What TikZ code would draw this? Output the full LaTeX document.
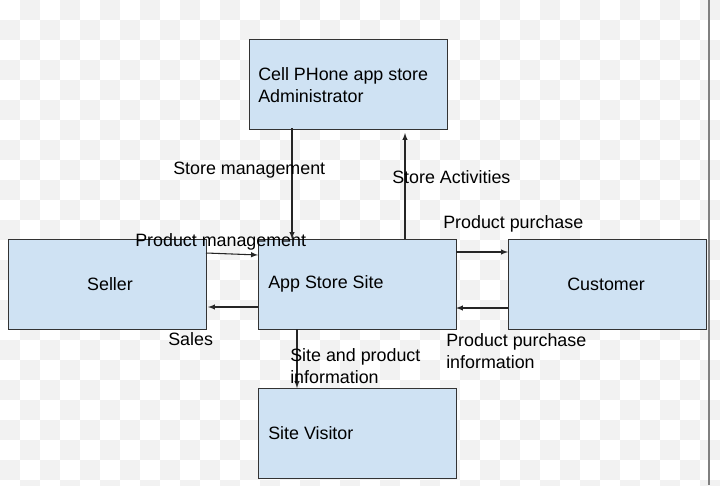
\documentclass[tikz,border=0pt]{standalone}
\usepackage{fontspec}
\setmainfont{Liberation Sans}
\definecolor{boxfill}{HTML}{CFE2F3}
\definecolor{chk}{HTML}{F2F2F2}
\begin{document}
\begin{tikzpicture}[x=0.75pt,y=-0.75pt,
  box/.style={draw=black!80,fill=boxfill,minimum width=148.5pt,minimum height=67.5pt,anchor=north west,inner sep=0},
  lbl/.style={font=\fontsize{13.4}{16}\selectfont,inner sep=0,anchor=west,align=left},
  arr/.style={-latex,black!85,line width=0.8pt}]
\useasboundingbox (0,0) rectangle (720,485);
\fill[white] (0,0) rectangle (720,485);
\foreach \i in {0,...,35}{\foreach \j in {0,...,24}{
  \pgfmathparse{int(mod(\i+\j,2))}
  \ifnum\pgfmathresult=1 \fill[chk] (\i*20,\j*20) rectangle +(20,20);\fi}}
\draw[gray,line width=1.5pt] (709,0) -- (709,485);
\node[box] (admin) at (249,39) {};
\node[box] (seller) at (8,239) {};
\node[box] (app) at (258,239) {};
\node[box] (cust) at (508,239) {};
\node[box] (vis) at (258,388) {};
\node[lbl] (tadmin) at (258,85) {Cell PHone app store\\Administrator};
\node[lbl,anchor=center] (tseller) at (110,284) {Seller};
\node[lbl] (tapp) at (268,284) {App Store Site};
\node[lbl,anchor=center] (tcust) at (606,284) {Customer};
\node[lbl] (tvis) at (268,433) {Site Visitor};
\coordinate (a1) at (292,128); \coordinate (a2) at (292,239);
\draw[arr] (a1) -- (a2);
\coordinate (b1) at (405,239); \coordinate (b2) at (405,133);
\draw[arr] (b1) -- (b2);
\coordinate (c1) at (206,253); \coordinate (c2) at (258,255);
\draw[arr] (c1) -- (c2);
\coordinate (d1) at (258,307); \coordinate (d2) at (208,307);
\draw[arr] (d1) -- (d2);
\coordinate (e1) at (456,252); \coordinate (e2) at (508,252);
\draw[arr] (e1) -- (e2);
\coordinate (f1) at (508,308); \coordinate (f2) at (456,308);
\draw[arr] (f1) -- (f2);
\coordinate (g1) at (297,329); \coordinate (g2) at (297,388);
\draw[arr] (g1) -- (g2);
\node[lbl] (l1) at (173,170) {Store management};
\node[lbl] (l2) at (392,177) {Store Activities};
\node[lbl] (l3) at (135,242) {Product management};
\node[lbl] (l4) at (168,339) {Sales};
\node[lbl] (l5) at (443,224) {Product purchase};
\node[lbl] (l6) at (446,351) {Product purchase\\information};
\node[lbl] (l7) at (290,366) {Site and product\\information};
\end{tikzpicture}
\end{document}
